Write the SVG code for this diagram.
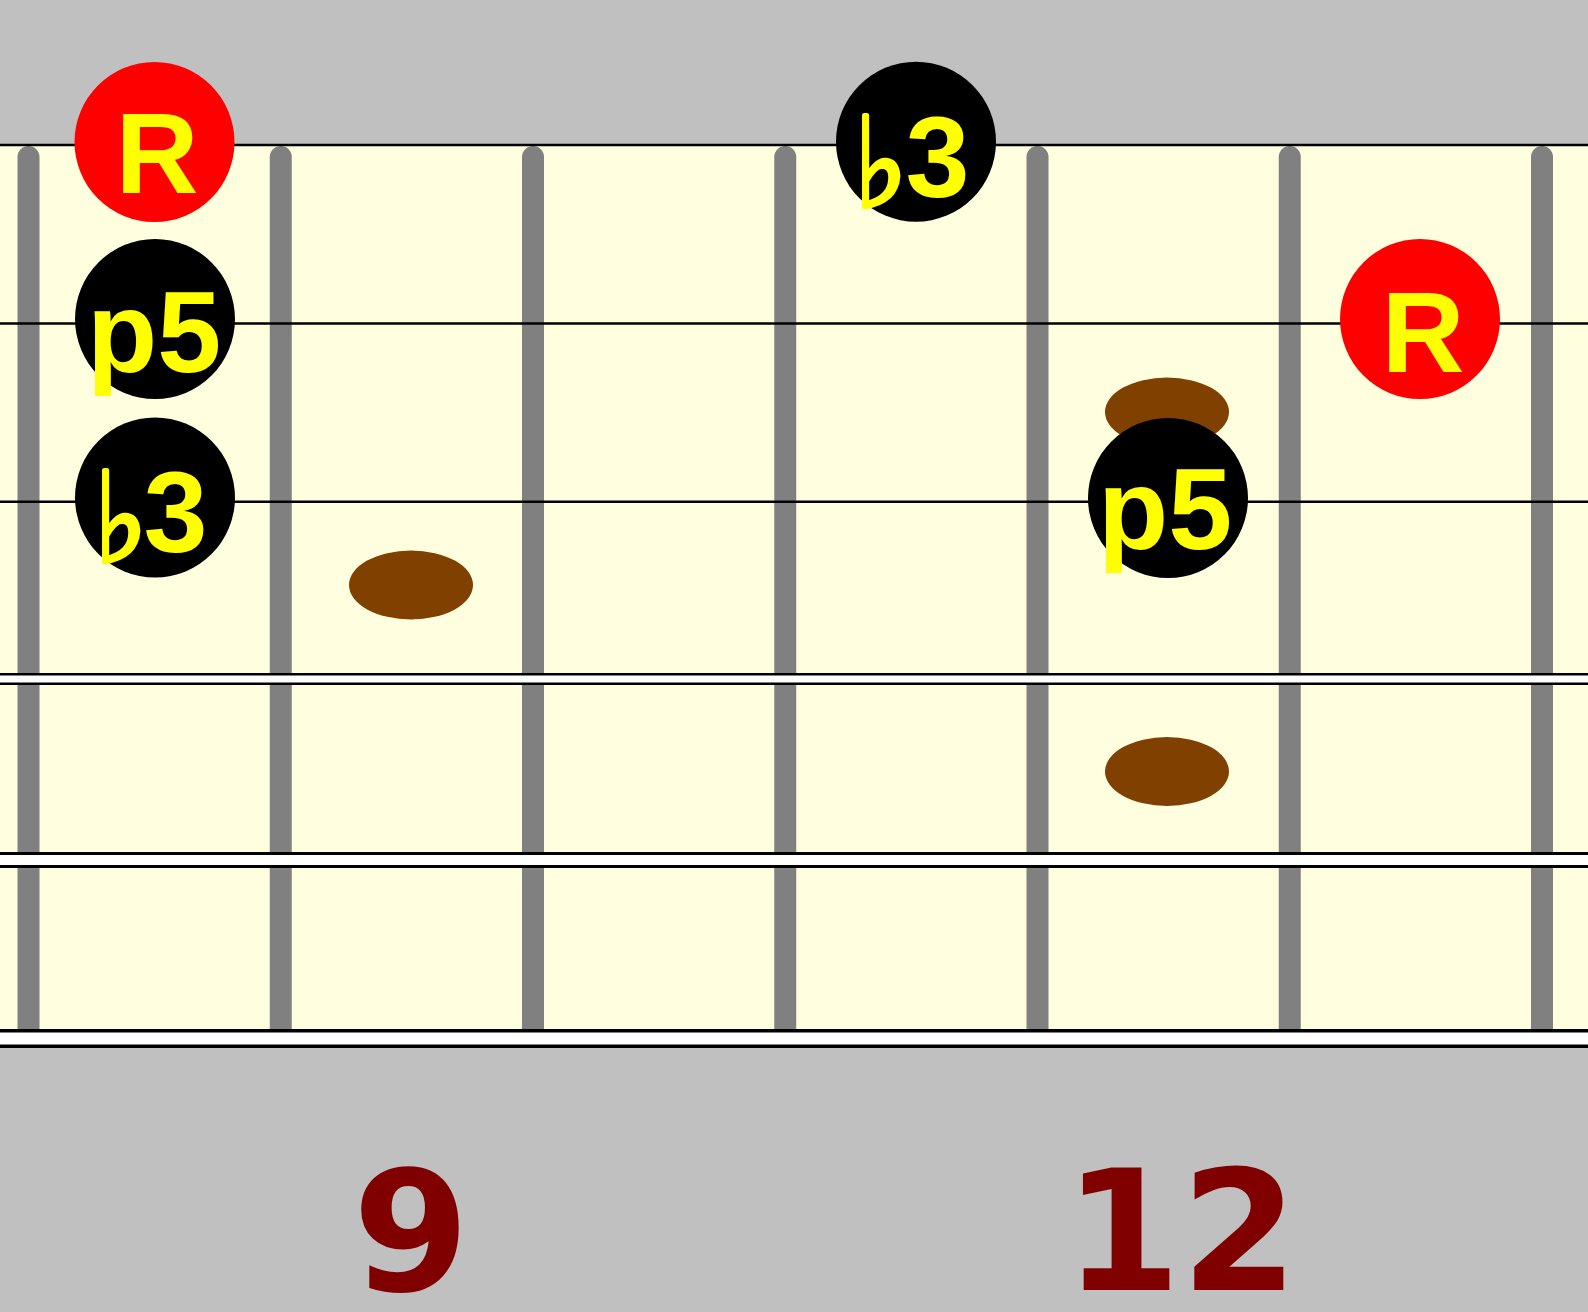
<svg xmlns="http://www.w3.org/2000/svg" width="1588" height="1312" viewBox="0 0 1588 1312">
<style>
.fret{fill:#808080}
.thin{stroke:#000;stroke-width:2.5}
.wound{stroke:#000}
.core{stroke:#fff}
.dot{fill:#804000}
.root{fill:#ff0000}
.tone{fill:#000}
.lbl{font-family:"Liberation Sans",Arial,sans-serif;font-weight:bold;font-size:115px;fill:#ffff00;text-anchor:middle}
.flat{font-family:"DejaVu Sans Condensed","DejaVu Sans",sans-serif;font-weight:normal;font-size:126px;stroke:#ffff00;stroke-width:4;stroke-linejoin:round}
.num{font-family:"DejaVu Sans",Verdana,sans-serif;font-weight:bold;font-size:168px;fill:#800000;text-anchor:middle}
</style>
<g id="background">
<rect x="0" y="0" width="1588" height="1312" fill="#c0c0c0"/>
<rect x="0" y="145" width="1588" height="893" fill="#ffffe0"/>
</g>
<g id="frets">
<rect class="fret" x="17.5" y="146" width="22" height="900" rx="11"/>
<rect class="fret" x="269.75" y="146" width="22" height="900" rx="11"/>
<rect class="fret" x="522" y="146" width="22" height="900" rx="11"/>
<rect class="fret" x="774.25" y="146" width="22" height="900" rx="11"/>
<rect class="fret" x="1026.5" y="146" width="22" height="900" rx="11"/>
<rect class="fret" x="1278.75" y="146" width="22" height="900" rx="11"/>
<rect class="fret" x="1531" y="146" width="22" height="900" rx="11"/>
</g>
<g id="strings">
<line class="thin" x1="0" y1="145" x2="1588" y2="145"/>
<line class="thin" x1="0" y1="323.4" x2="1588" y2="323.4"/>
<line class="thin" x1="0" y1="501.8" x2="1588" y2="501.8"/>
<line class="wound" x1="0" y1="679" x2="1588" y2="679" stroke-width="12"/>
<line class="core" x1="0" y1="679" x2="1588" y2="679" stroke-width="7"/>
<line class="wound" x1="0" y1="860" x2="1588" y2="860" stroke-width="16"/>
<line class="core" x1="0" y1="860" x2="1588" y2="860" stroke-width="10"/>
<line class="wound" x1="0" y1="1038.5" x2="1588" y2="1038.5" stroke-width="19"/>
<line class="core" x1="0" y1="1038.5" x2="1588" y2="1038.5" stroke-width="12"/>
</g>
<g id="inlays">
<ellipse class="dot" cx="411" cy="585" rx="62" ry="34.5"/>
<ellipse class="dot" cx="1167" cy="412" rx="62" ry="34.5"/>
<ellipse class="dot" cx="1167" cy="771.5" rx="62" ry="34.5"/>
</g>
<g id="note-R-1">
<circle class="root" cx="154.5" cy="142" r="80"/>
<text class="lbl" x="157" y="193">R</text>
</g>
<g id="note-p5-1">
<circle class="tone" cx="155" cy="319" r="80"/>
<text class="lbl" x="154" y="372">p5</text>
</g>
<g id="note-b3-1">
<circle class="tone" cx="155" cy="497.5" r="80"/>
<text class="lbl" style="text-anchor:start" y="552"><tspan class="flat" x="94" dy="10">♭</tspan><tspan x="143.5" dy="-10">3</tspan></text>
</g>
<g id="note-b3-2">
<circle class="tone" cx="916" cy="141.7" r="80"/>
<text class="lbl" style="text-anchor:start" y="196.7"><tspan class="flat" x="854" dy="10">♭</tspan><tspan x="905.5" dy="-10">3</tspan></text>
</g>
<g id="note-p5-2">
<circle class="tone" cx="1168" cy="498" r="80"/>
<text class="lbl" x="1165" y="549">p5</text>
</g>
<g id="note-R-2">
<circle class="root" cx="1420" cy="319" r="80"/>
<text class="lbl" x="1423" y="372">R</text>
</g>
<g id="fret-numbers">
<text class="num" x="411" y="1291">9</text>
<text class="num" x="1181" y="1290">12</text>
</g>
</svg>
